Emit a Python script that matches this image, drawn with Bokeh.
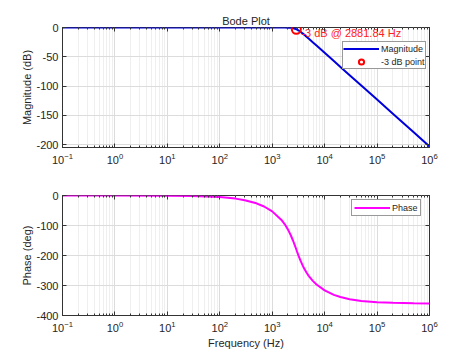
from bokeh.plotting import figure
from bokeh.layouts import column
from bokeh.models import (Range1d, LogAxis, LinearAxis, LogTicker, SingleIntervalTicker,
                          Legend, LegendItem, PrintfTickFormatter)
from bokeh.core.properties import value
from bokeh.embed import file_html
from bokeh.resources import INLINE

# ---- data ----
freq = [0.1, 1, 10, 30, 100, 200, 300, 500, 700, 1000, 1500, 1750, 2000, 2250, 2500,
        2700, 2881.84, 3000, 3200, 3500, 4000, 4500, 5000, 6000, 7000, 1e4, 1.5e4,
        2e4, 3e4, 5e4, 1e5, 2e5, 5e5, 1e6]
mag_db = [0, 0, 0, 0, 0, 0, 0, 0, 0, 0, -0.02, -0.08, -0.23, -0.56, -1.21,
          -2.02, -3.01, -3.77, -5.2, -7.58, -11.7, -15.6, -19.2, -25.5, -30.8, -43.2, -57.3,
          -67.3, -81.4, -99.1, -123.2, -147.3, -179.1, -203.2]
phase_deg = [0, -0.05, -0.52, -1.56, -5.2, -10.4, -15.6, -26.1, -36.7, -52.9, -81.5, -97.0,
             -113.7, -131.7, -150.8, -166.3, -180.0, -188.5, -201.8, -219.0, -241.0, -256.8,
             -268.6, -285.4, -296.7, -316.3, -331.1, -338.4, -345.6, -351.4, -355.7, -357.8,
             -359.1, -359.6]
cut_freq = [2881.84]
cut_mag = [-3.01]
cut_label = ["-3 dB @ 2881.84 Hz"]

FONT = "Liberation Sans"
DARK = "#333333"
GRID = "#dcdcdc"
MINOR = "#efefef"


def style(p, ylabel, y_interval, xlabel=None):
    p.background_fill_color = "white"
    p.border_fill_color = "white"
    p.outline_line_color = DARK
    p.outline_line_width = 1
    for ax in p.xaxis + p.yaxis:
        ax.axis_line_color = DARK
        ax.major_tick_line_color = DARK
        ax.minor_tick_line_color = DARK
        ax.major_tick_in = 4
        ax.major_tick_out = 0
        ax.minor_tick_in = 2
        ax.minor_tick_out = 0
        ax.major_label_text_font = FONT
        ax.major_label_text_font_size = "11px"
        ax.major_label_text_color = "#262626"
        ax.axis_label_text_font = FONT
        ax.axis_label_text_font_size = "11px"
        ax.axis_label_text_font_style = "normal"
        ax.axis_label_text_color = "#262626"
    p.xaxis[0].ticker = LogTicker(desired_num_ticks=8, num_minor_ticks=10)
    p.yaxis[0].ticker = SingleIntervalTicker(interval=y_interval, num_minor_ticks=0)
    p.yaxis[0].formatter = PrintfTickFormatter(format="%d")
    p.yaxis[0].axis_label = ylabel
    p.yaxis[0].major_label_standoff = 4
    p.yaxis[0].axis_label_standoff = 0
    p.xaxis[0].major_label_standoff = 5
    if xlabel:
        p.xaxis[0].axis_label = xlabel
        p.xaxis[0].axis_label_standoff = 2
    p.xgrid.grid_line_color = GRID
    p.xgrid.minor_grid_line_color = MINOR
    p.ygrid.grid_line_color = GRID
    p.ygrid.minor_grid_line_color = None
    # box ticks on top and right
    top = LogAxis(ticker=LogTicker(desired_num_ticks=8, num_minor_ticks=10),
                  major_label_text_font_size="1px", major_label_text_alpha=0,
                  axis_line_color=None,
                  major_tick_in=4, major_tick_out=0, minor_tick_in=2, minor_tick_out=0,
                  major_tick_line_color=DARK, minor_tick_line_color=DARK,
                  major_label_standoff=0)
    right = LinearAxis(ticker=SingleIntervalTicker(interval=y_interval, num_minor_ticks=0),
                       major_label_text_font_size="1px", major_label_text_alpha=0,
                       axis_line_color=None,
                       major_tick_in=4, major_tick_out=0, minor_tick_line_color=None,
                       major_tick_line_color=DARK, major_label_standoff=0)
    p.add_layout(top, "above")
    p.add_layout(right, "right")


p1 = figure(width=474, height=177, x_axis_type="log",
            x_range=Range1d(0.1, 1e6), y_range=Range1d(-205, 0),
            output_backend="svg", toolbar_location=None,
            min_border_left=62, min_border_right=45, min_border_top=27, min_border_bottom=30)
p1.title.text = "Bode Plot"
p1.title.align = "center"
p1.title.text_font = FONT
p1.title.text_font_size = "11px"
p1.title.text_font_style = "normal"
p1.title.text_color = "#262626"
p1.title.standoff = 1

style(p1, "Magnitude (dB)", 50)

r_mag = p1.line(freq, mag_db, line_color="#0000dd", line_width=2)
r_pt = p1.scatter(cut_freq, cut_mag, marker="circle", size=9, fill_color=None,
                  line_color="#ff0000", line_width=2)
p1.text(x=cut_freq, y=cut_mag, text=cut_label, x_offset=5, y_offset=4,
        text_baseline="middle", text_align="left", text_color="#ff2020",
        text_font=value(FONT), text_font_size="11px")

leg1 = Legend(items=[LegendItem(label="Magnitude", renderers=[r_mag]),
                     LegendItem(label="-3 dB point", renderers=[r_pt])],
              location=(280, 78), orientation="vertical",
              label_text_font=FONT, label_text_font_size="9px", label_text_color="#262626",
              glyph_width=36, glyph_height=13, label_height=12, label_standoff=2,
              spacing=0, padding=0, margin=0, border_line_color=DARK,
              background_fill_color="white", background_fill_alpha=1)
p1.add_layout(leg1, "center")

p2 = figure(width=474, height=178, x_axis_type="log",
            x_range=Range1d(0.1, 1e6), y_range=Range1d(-400, 0),
            output_backend="svg", toolbar_location=None,
            min_border_left=62, min_border_right=45, min_border_top=18, min_border_bottom=40)
style(p2, "Phase (deg)", 100, xlabel="Frequency (Hz)")
r_ph = p2.line(freq, phase_deg, line_color="#ff00ff", line_width=2)

leg2 = Legend(items=[LegendItem(label="Phase", renderers=[r_ph])],
              location=(289, 99), orientation="vertical",
              label_text_font=FONT, label_text_font_size="9px", label_text_color="#262626",
              glyph_width=36, glyph_height=11, label_height=11, label_standoff=2,
              spacing=0, padding=2, margin=0, border_line_color=DARK,
              background_fill_color="white", background_fill_alpha=1)
p2.add_layout(leg2, "center")

layout = column(p1, p2, spacing=0)
open("out.html", "w").write(file_html(layout, INLINE))
